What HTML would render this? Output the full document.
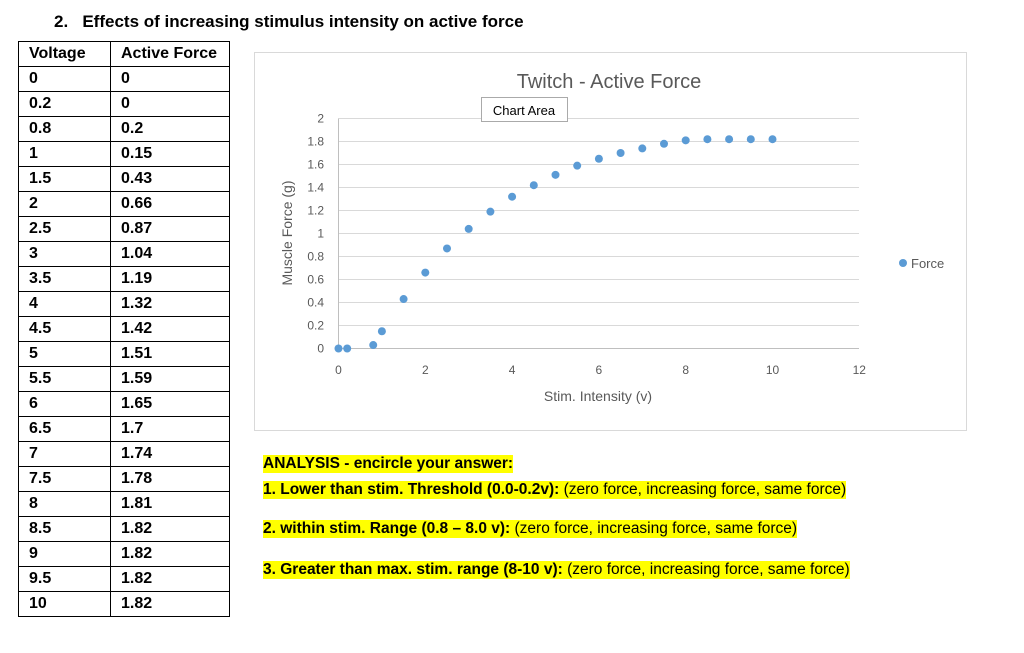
<!DOCTYPE html>
<html><head><meta charset="utf-8"><style>
body{margin:0;width:1024px;height:653px;background:#fff;position:relative;overflow:hidden;font-family:"Liberation Sans",sans-serif}
.t{position:absolute;white-space:nowrap}
table{position:absolute;left:18px;top:41px;border-collapse:collapse;font-weight:bold;font-size:16px}
td{border:1.5px solid #000;height:24px;padding:0 0 0 10px;line-height:24px}
td:first-child{width:81px}td:last-child{width:108px}
.hl{background:#ffff00;font-size:15.5px}
</style></head><body>
<div class="t" style="left:54px;top:12px;font-size:17px;font-weight:bold">2.&nbsp;&nbsp;&nbsp;Effects of increasing stimulus intensity on active force</div>
<table><tbody id="tb"><tr><td>Voltage</td><td>Active Force</td></tr></tbody></table>
<svg style="position:absolute;left:0;top:0" width="1024" height="653">
<rect x="254.5" y="52.5" width="712" height="378" fill="#fff" stroke="#d9d9d9"/>
<text x="609" y="88" text-anchor="middle" font-size="20" fill="#595959">Twitch - Active Force</text>
<g id="grid"></g><g id="pts"></g>
<text x="598" y="401" text-anchor="middle" font-size="14" fill="#595959">Stim. Intensity (v)</text>
<text transform="translate(292,233) rotate(-90)" text-anchor="middle" font-size="14" fill="#595959">Muscle Force (g)</text>
<circle cx="903" cy="263" r="4" fill="#5b9bd5"/>
<text x="911" y="268" font-size="13" fill="#595959">Force</text>
<rect x="481.5" y="97.5" width="86" height="24" fill="#fff" stroke="#aaa"/>
<text x="524" y="115" text-anchor="middle" font-size="13" fill="#000">Chart Area</text>
</svg>
<div class="t hl" style="left:263px;top:455px;font-weight:bold">ANALYSIS - encircle your answer:</div>
<div class="t hl" style="left:263px;top:481px"><b>1. Lower than stim. Threshold (0.0-0.2v):</b> (zero force, increasing force, same force)</div>
<div class="t hl" style="left:263px;top:520px"><b>2. within stim. Range (0.8 – 8.0 v):</b> (zero force, increasing force, same force)</div>
<div class="t hl" style="left:263px;top:561px"><b>3. Greater than max. stim. range (8-10 v):</b> (zero force, increasing force, same force)</div>
<script>
const voltages=["0","0.2","0.8","1","1.5","2","2.5","3","3.5","4","4.5","5","5.5","6","6.5","7","7.5","8","8.5","9","9.5","10"];
const forces=["0","0","0.2","0.15","0.43","0.66","0.87","1.04","1.19","1.32","1.42","1.51","1.59","1.65","1.7","1.74","1.78","1.81","1.82","1.82","1.82","1.82"];
const xVals=[0,0.2,0.8,1,1.5,2,2.5,3,3.5,4,4.5,5,5.5,6,6.5,7,7.5,8,8.5,9,9.5,10];
const yVals=[0,0,0.03,0.15,0.43,0.66,0.87,1.04,1.19,1.32,1.42,1.51,1.59,1.65,1.7,1.74,1.78,1.81,1.82,1.82,1.82,1.82];
const yTicks=[0,0.2,0.4,0.6,0.8,1,1.2,1.4,1.6,1.8,2];
const xTicks=[0,2,4,6,8,10,12];
const X=v=>338.5+v*43.4, Y=v=>348.5-v*115;
const ns="http://www.w3.org/2000/svg";
const tb=document.getElementById('tb');
voltages.forEach((v,i)=>{const tr=document.createElement('tr');


tr.innerHTML='<td>'+v+'</td><td>'+forces[i]+'</td>';tb.appendChild(tr);});
const g=document.getElementById('grid');
function mk(t,a,p){const e=document.createElementNS(ns,t);for(const k in a)e.setAttribute(k,a[k]);p.appendChild(e);return e;}
yTicks.forEach(t=>{const y=Y(t);
const l=mk('line',{x1:338.5,x2:859,y1:y,y2:y,stroke:t===0?'#bfbfbf':'#d9d9d9'},g);


const tx=mk('text',{x:324,y:y+4,'text-anchor':'end','font-size':12,fill:'#595959'},g);tx.textContent=t;

});
mk('line',{x1:338.5,x2:338.5,y1:Y(2),y2:Y(0),stroke:'#bfbfbf'},g);
xTicks.forEach(t=>{const tx=mk('text',{x:X(t),y:374,'text-anchor':'middle','font-size':12,fill:'#595959'},g);tx.textContent=t;

});
const p=document.getElementById('pts');
xVals.forEach((x,i)=>{const c=mk('circle',{cx:X(x),cy:Y(yVals[i]),r:4,fill:'#5b9bd5'},p);

});
</script>
</body></html>
